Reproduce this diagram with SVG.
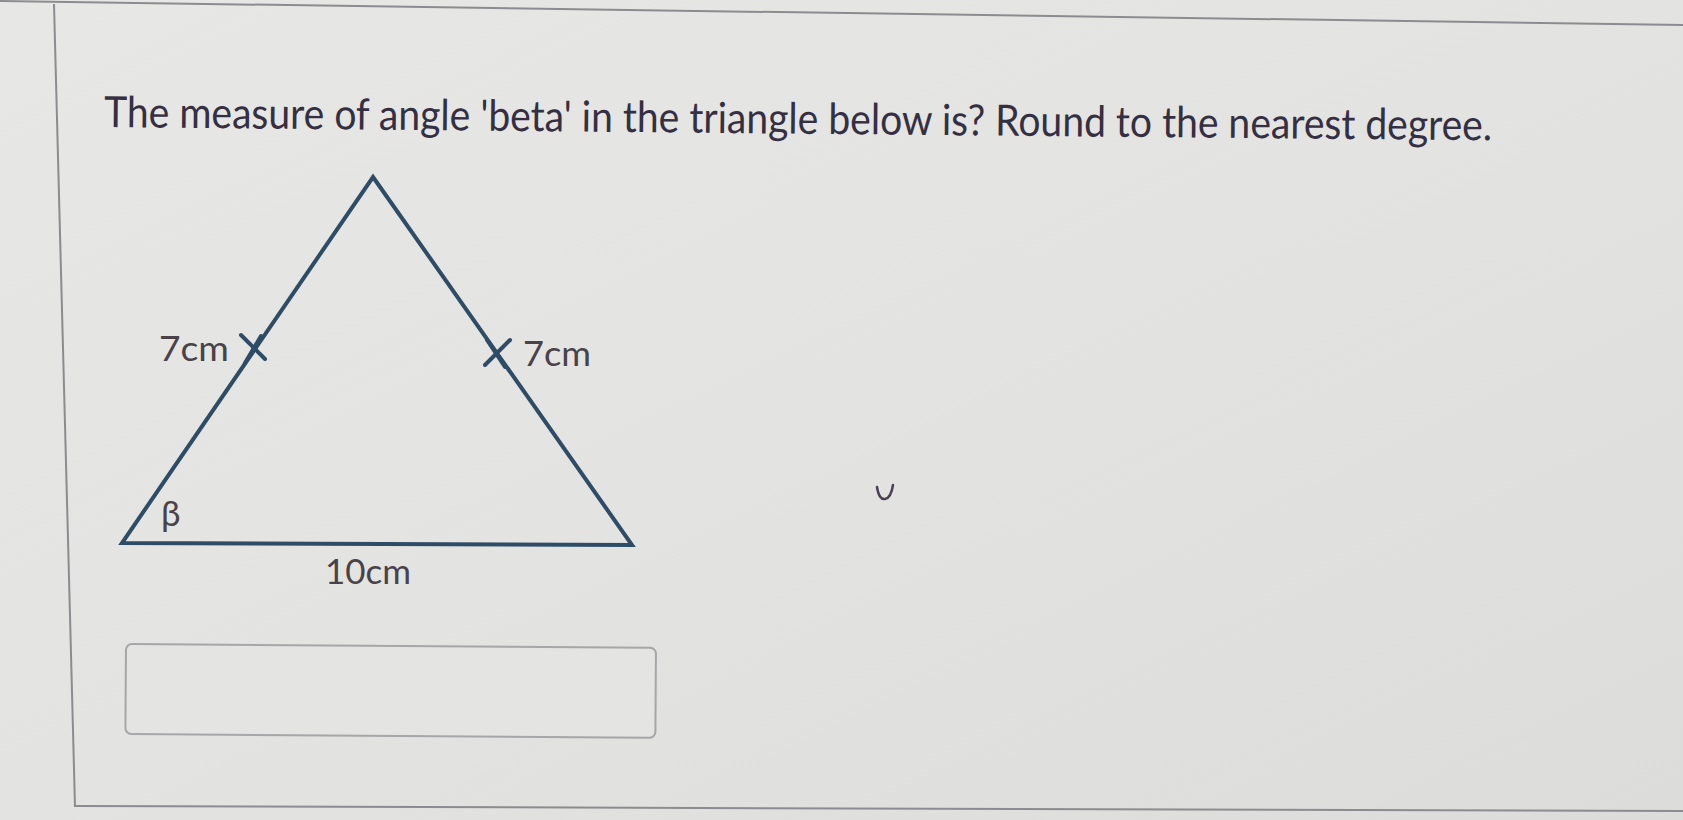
<svg xmlns="http://www.w3.org/2000/svg" width="1683" height="820" viewBox="0 0 1683 820">
  <defs>
    <linearGradient id="bg" x1="0" y1="0" x2="1" y2="1">
      <stop offset="0" stop-color="#e7e7e5"/>
      <stop offset="0.5" stop-color="#e3e3e1"/>
      <stop offset="1" stop-color="#dcdcda"/>
    </linearGradient>
    <style>
      .q { font-family: Lato, "Liberation Sans", sans-serif; font-size: 43px; fill: #352f42; }
      .lbl { font-family: Lato, "Liberation Sans", sans-serif; font-size: 35px; fill: #4a4249; }
      .side { fill: none; stroke: #2e4c66; stroke-width: 4; stroke-linejoin: miter; }
      .tick { stroke: #2e4c66; stroke-width: 4; stroke-linecap: round; }
      .frame { stroke: #8c8c90; stroke-width: 2; fill: none; }
    </style>
  </defs>
  <rect x="0" y="0" width="1683" height="820" fill="url(#bg)"/>

  <g id="frame">
    <line class="frame" x1="0" y1="1" x2="1683" y2="25"/>
    <line class="frame" x1="54" y1="4" x2="75" y2="807" stroke="#5e5e66"/>
    <line class="frame" x1="75" y1="806" x2="1683" y2="811" stroke="#6e6e74"/>
  </g>

  <g id="question">
    <text class="q" x="104" y="127" textLength="1388" lengthAdjust="spacingAndGlyphs" transform="rotate(0.55 104 127)">The measure of angle 'beta' in the triangle below is?  Round to the nearest degree.</text>
  </g>

  <g id="triangle">
    <polygon class="side" points="373,177 632,545 122,543"/>
  </g>

  <g id="connectors">
    <line class="tick" x1="241" y1="335" x2="265" y2="359"/>
    <line class="tick" x1="245" y1="363" x2="261" y2="336"/>
    <line class="tick" x1="485" y1="365" x2="510" y2="340"/>
    <line class="tick" x1="487" y1="340" x2="505" y2="367"/>
  </g>

  <g id="label-left">
    <text class="lbl" x="159" y="361" textLength="70" lengthAdjust="spacingAndGlyphs">7cm</text>
  </g>
  <g id="label-right">
    <text class="lbl" x="523" y="366" textLength="68" lengthAdjust="spacingAndGlyphs">7cm</text>
  </g>
  <g id="label-beta">
    <text class="lbl" x="161" y="526" font-size="32">β</text>
  </g>
  <g id="label-base">
    <text class="lbl" x="325" y="584" textLength="86" lengthAdjust="spacingAndGlyphs">10cm</text>
  </g>

  <g id="answer-box">
    <rect x="126" y="644" width="530" height="90" rx="6" ry="6" fill="#e4e4e2" stroke="#a6a6a8" stroke-width="2" transform="rotate(0.4 126 644)"/>
  </g>

  <g id="mark">
    <path d="M877,487 Q879,500 885,499 Q891,498 893,485" fill="none" stroke="#4a3f55" stroke-width="2.5" stroke-linecap="round"/>
  </g>
</svg>
